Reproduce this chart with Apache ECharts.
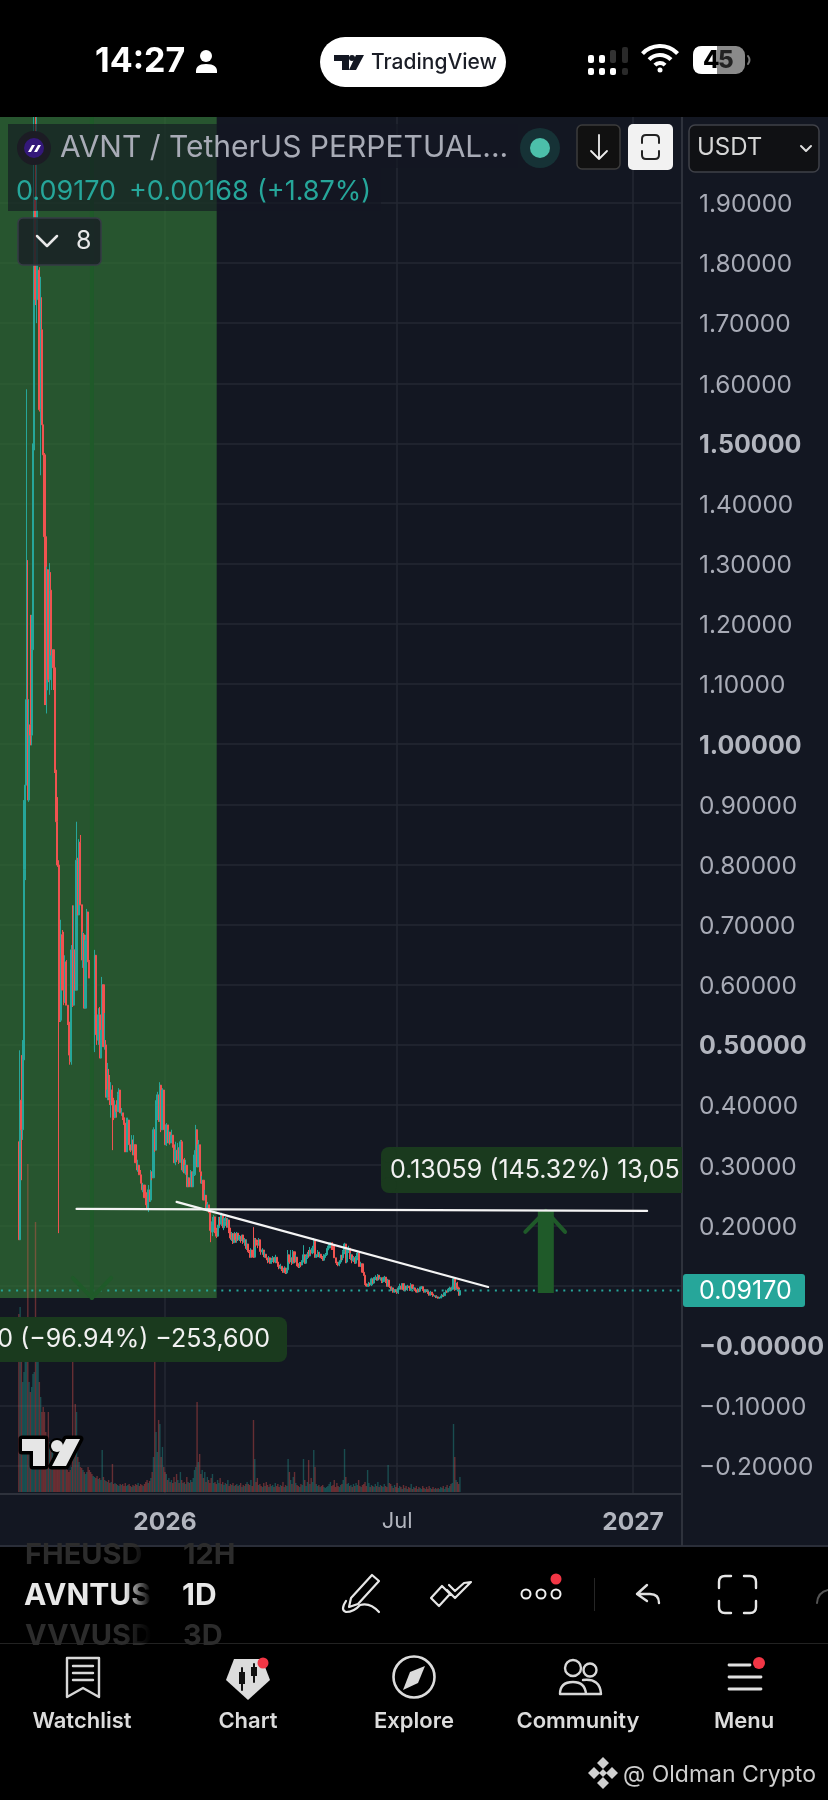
<!DOCTYPE html>
<html><head><meta charset="utf-8">
<style>html,body{margin:0;padding:0;background:#000}#c{width:828px;height:1800px}</style>
<script src="https://cdn.jsdelivr.net/npm/echarts@6/dist/echarts.min.js"></script>
</head><body><div id="c"></div>
<script>
const startDate='2025-09-09';
const firstOpen=.339;
const closes=[
.176,.408,.359,.475,.791,.932,1.074,.907,1.032,1.015,
1.157,1.489,1.905,1.739,1.772,1.788,1.556,1.689,1.531,1.481,
1.345,1.090,1.290,1.107,1.256,1.148,1.157,1.127,.957,.871,
.799,.691,.541,.683,.591,.571,.638,.566,.538,.483,
.472,.658,.566,.658,.591,.807,.716,.837,.733,.641,
.683,.561,.674,.721,.638,.611,.528,.492,.55,.649,
.517,.508,.55,.478,.508,.6,.497,.5,.413,.425,
.413,.408,.425,.4,.379,.4,.389,.417,.425,.387,
.387,.379,.37,.322,.372,.375,.334,.325,.342,.317,
.334,.304,.292,.3,.284,.27,.259,.267,.246,.234,
.226,.259,.242,.289,.279,.359,.325,.4,.417,.375,
.433,.359,.425,.367,.334,.367,.337,.355,.337,.35,
.334,.304,.325,.309,.329,.305,.339,.292,.309,.287,
.3,.264,.279,.264,.289,.264,.284,.317,.359,.297,
.334,.289,.27,.275,.242,.25,.226,.234,.221,.192,
.189,.206,.214,.192,.182,.196,.212,.202,.217,.196,
.206,.212,.199,.209,.189,.179,.186,.171,.186,.176,
.187,.176,.182,.176,.184,.172,.176,.162,.169,.156,
.149,.159,.149,.147,.176,.171,.167,.176,.159,.156,
.159,.149,.152,.146,.139,.146,.137,.142,.146,.139,
.147,.139,.134,.129,.132,.126,.122,.129,.121,.126,
.151,.139,.146,.137,.156,.139,.147,.134,.131,.137,
.134,.139,.151,.137,.146,.152,.149,.159,.154,.162,
.176,.147,.151,.154,.149,.152,.146,.142,.149,.151,
.159,.162,.167,.171,.167,.164,.146,.139,.136,.134,
.139,.149,.146,.156,.169,.139,.159,.162,.146,.151,
.141,.146,.137,.146,.154,.139,.132,.136,.122,.117,
.103,.099,.099,.104,.101,.111,.104,.113,.114,.109,
.117,.111,.113,.106,.109,.114,.106,.099,.109,.098,
.093,.096,.089,.093,.091,.088,.096,.099,.096,.103,
.093,.099,.093,.099,.098,.093,.101,.096,.096,.093,
.089,.094,.091,.096,.098,.093,.089,.093,.091,.088,
.084,.089,.086,.083,.083,.081,.081,.079,.079,.081,
.084,.083,.088,.091,.089,.094,.096,.093,.096,.111,
.093,.104,.096,.084,.0917];
const highs=[
.339,.491,.483,.508,.907,.94,1.59,1.306,1.074,1.215,
1.215,1.5,2.2,2.2,2.2,1.888,1.793,1.777,1.743,1.534,
1.484,1.345,1.295,1.29,1.301,1.286,1.157,1.157,1.132,.96,
.912,.807,.694,.708,.691,.688,.649,.641,.566,.538,
.508,.666,.732,.732,.688,.871,.811,.842,.849,.732,
.688,.686,.683,.726,.721,.641,.613,.561,.558,.658,
.6,.555,.561,.563,.525,.613,.6,.553,.508,.47,
.46,.45,.438,.433,.412,.408,.408,.422,.428,.425,
.395,.387,.379,.37,.379,.379,.375,.334,.35,.342,
.35,.334,.304,.309,.3,.292,.27,.27,.267,.247,
.255,.267,.259,.292,.289,.363,.359,.408,.422,.417,
.438,.433,.428,.425,.37,.37,.367,.359,.355,.359,
.35,.337,.339,.325,.337,.329,.342,.342,.309,.312,
.309,.3,.284,.279,.292,.289,.289,.325,.367,.359,
.342,.334,.289,.282,.275,.259,.25,.239,.234,.221,
.226,.214,.217,.214,.196,.201,.214,.214,.221,.214,
.212,.214,.212,.212,.209,.196,.189,.187,.189,.187,
.189,.187,.184,.182,.184,.184,.179,.176,.176,.169,
.159,.162,.159,.197,.179,.179,.176,.179,.176,.162,
.162,.159,.156,.152,.146,.149,.146,.146,.149,.146,
.151,.147,.139,.134,.136,.132,.126,.132,.129,.129,
.159,.151,.159,.146,.159,.156,.151,.147,.137,.139,
.139,.142,.167,.151,.149,.156,.159,.164,.159,.166,
.179,.176,.152,.159,.156,.156,.152,.149,.152,.154,
.162,.166,.171,.172,.171,.171,.167,.146,.142,.139,
.142,.151,.151,.159,.171,.169,.162,.166,.162,.154,
.151,.149,.146,.149,.156,.154,.139,.139,.136,.122,
.117,.103,.103,.106,.104,.113,.111,.114,.117,.114,
.119,.117,.114,.113,.113,.116,.114,.106,.111,.109,
.098,.098,.096,.094,.093,.091,.099,.103,.099,.104,
.103,.103,.099,.101,.099,.098,.104,.101,.099,.096,
.093,.096,.094,.098,.099,.098,.093,.094,.093,.091,
.091,.091,.089,.086,.084,.083,.083,.081,.081,.083,
.086,.086,.089,.093,.091,.096,.098,.096,.098,.114,
.111,.106,.106,.098,.094];
const lows=[
.176,.176,.275,.342,.408,.774,.932,.907,.904,.998,
.998,1.051,1.45,1.73,1.7,1.74,1.553,1.447,1.531,1.481,
1.065,1.065,1.051,1.103,1.082,1.148,1.09,1.09,.952,.871,
.796,.187,.538,.538,.591,.566,.57,.566,.533,.483,
.467,.467,.563,.566,.591,.591,.716,.716,.732,.641,
.628,.561,.561,.641,.638,.611,.528,.488,.492,.488,
.517,.5,.5,.478,.478,.486,.497,.492,.413,.408,
.408,.4,.379,.325,.375,.379,.379,.389,.389,.387,
.382,.375,.367,.322,.322,.362,.334,.322,.325,.317,
.317,.304,.292,.289,.284,.27,.259,.255,.246,.234,
.226,.222,.239,.239,.275,.279,.322,.325,.375,.372,
.372,.355,.359,.359,.334,.332,.337,.337,.334,.337,
.329,.304,.3,.305,.309,.302,.304,.292,.289,.287,
.284,.264,.264,.264,.264,.264,.264,.282,.315,.297,
.297,.289,.27,.269,.242,.242,.226,.224,.221,.191,
.172,.182,.196,.187,.179,.181,.192,.199,.199,.196,
.192,.199,.196,.196,.187,.176,.174,.169,.171,.171,
.171,.174,.174,.171,.174,.169,.166,.161,.159,.154,
.146,.146,.146,.146,.147,.164,.162,.166,.156,.151,
.151,.147,.146,.142,.137,.139,.136,.136,.139,.137,
.137,.137,.131,.127,.127,.124,.121,.122,.119,.119,
.126,.136,.139,.134,.137,.137,.139,.132,.129,.129,
.131,.134,.139,.136,.136,.144,.146,.149,.151,.152,
.159,.146,.146,.147,.147,.146,.144,.141,.141,.146,
.149,.154,.159,.162,.159,.159,.146,.137,.134,.132,
.132,.136,.142,.142,.152,.137,.137,.154,.144,.142,
.137,.139,.136,.136,.142,.131,.131,.131,.121,.116,
.101,.098,.098,.098,.099,.099,.103,.103,.109,.108,
.108,.109,.108,.104,.104,.106,.104,.098,.098,.096,
.091,.091,.088,.088,.089,.086,.086,.093,.093,.093,
.091,.091,.091,.091,.096,.091,.091,.094,.093,.091,
.088,.088,.089,.089,.094,.091,.088,.088,.089,.086,
.083,.083,.084,.081,.081,.079,.079,.078,.078,.079,
.079,.081,.083,.086,.088,.089,.091,.091,.091,.093,
.091,.093,.093,.083,.083];
const volumes=[
178,185,130,110,120,150,130,328,110,100,
105,118,120,270,140,140,110,95,80,85,
80,60,50,80,50,45,40,35,35,32,
30,45,30,28,26,30,25,24,22,20,
22,25,145,40,88,80,35,30,25,24,
22,20,18,20,25,22,20,18,16,15,
14,16,13,14,12,42,15,12,11,10,
12,9,10,28,8,9,8,7,6,8,
7,8,6,9,6,7,8,6,5,7,
6,8,7,9,6,8,7,6,8,10,
12,9,11,14,20,35,147,60,40,72,
68,35,45,25,20,18,12,14,10,12,
9,15,10,18,12,9,20,12,9,10,
8,15,10,9,12,10,14,22,25,90,
30,38,18,22,14,20,10,15,12,9,
14,18,9,10,8,12,9,14,8,10,
7,9,8,12,6,8,7,9,6,7,
8,6,7,9,5,7,6,8,10,8,
7,12,6,72,33,10,14,7,8,6,
5,9,6,10,7,5,8,6,7,5,
9,6,8,5,7,6,10,5,7,6,
33,20,12,8,15,20,9,7,6,5,
8,7,33,12,6,10,32,8,14,10,
42,25,8,6,7,5,6,7,5,4,
5,6,8,10,6,7,12,5,9,6,
5,7,8,12,43,15,8,9,6,7,
5,8,6,9,7,12,6,5,7,8,
10,6,22,9,5,7,6,5,8,6,
10,5,7,6,5,8,6,5,27,9,
8,6,4,7,5,9,4,6,5,3,
7,4,6,3,5,4,8,3,5,4,
6,3,5,4,3,6,4,3,5,3,
6,4,3,5,3,4,3,4,3,5,
4,6,3,5,7,4,6,8,9,68,
35,12,10,8,15];
const priceTicks=[-.2,-.1,0,.1,.2,.3,.4,.5,.6,.7,.8,.9,1,1.1,1.2,1.3,1.4,1.5,1.6,1.7,1.8,1.9];
const priceTickLabels=['−0.20000','−0.10000','−0.00000','','0.20000','0.30000','0.40000','0.50000','0.60000','0.70000','0.80000','0.90000','1.00000','1.10000','1.20000','1.30000','1.40000','1.50000','1.60000','1.70000','1.80000','1.90000'];
const boldTicks=['−0.00000','0.50000','1.00000','1.50000'];
const timeTicks=['2026-01-01','2026-07-01','2027-01-01'];
const timeTickLabels=['2026','Jul','2027'];
const lastPrice=.0917;
const ts=s=>Date.parse(s+'T00:00:00Z');
const DAY=86400000;
const startTs=ts(startDate);
const dates=closes.map((_,i)=>startTs+i*DAY);
const up='#26a69a',down='#ef5350';
const axisMin=ts('2026-01-01')-128.7*DAY, axisMax=ts('2026-01-01')+403.2*DAY;
const candles=closes.map((c,i)=>{const o=i?closes[i-1]:firstOpen;
  return [dates[i],o,c,Math.min(lows[i],o,c),Math.max(highs[i],o,c)];});
const isUp=i=>candles[i][2]>=candles[i][1];
const line=(pts,color,width,extra)=>({type:'line',silent:true,symbol:'none',animation:false,z:6,data:pts.map(p=>[ts(p[0]),p[1]]),lineStyle:Object.assign({color:color,width:width,cap:'round',join:'round'},extra||{})});
const arrowGreen='#1f5a29';

const G=[];
let pN=0;
const rect=(x,y,w,h,fill,o)=>G.push(Object.assign({type:'rect',z:100,shape:{x,y,width:w,height:h,r:(o&&o.r)||0},style:{fill,stroke:o&&o.stroke,lineWidth:o&&o.lw}},o&&o.extra));
const text=(s,x,y,font,fill,align)=>G.push({type:'text',z:103,style:{text:s,x,y,font:font,fill:fill,align:align||'left',textAlign:align||'left',verticalAlign:'middle',textVerticalAlign:'middle',textBaseline:'middle'}});
const circ=(cx,cy,r,fill,stroke,lw)=>G.push({type:'circle',z:101,shape:{cx,cy,r},style:{fill:fill||'none',stroke:stroke,lineWidth:lw}});
const path=(d,fill,stroke,lw)=>{const n='pth'+(pN++);echarts.graphic.registerShape(n,echarts.graphic.extendPath(d));G.push({type:n,z:101,shape:{},style:{fill:fill||'none',stroke:stroke,lineWidth:lw,lineCap:'round',lineJoin:'round'}});};
const F='Inter, "Noto Sans", sans-serif';
// bands
rect(0,0,828,117,'#000');
rect(0,1546,828,254,'#000');
rect(0,1545,828,2,'#2a2e39');
rect(681,1494,2,52,'#2e323c');
// status bar
text('14:27',95,62,'700 34px '+F,'#fff');
circ(206,56,6,'#fff');
path('M196 73 Q195 64 206 64 Q218 64 217 73 Z','#fff');
rect(320,37,186,50,'#fff',{r:25});
path('M334 55 H349 V70 H342 V61 H334 Z M356 55 H364 L356 70 H349 Z','#131722');
circ(352,58,3,'#131722');
text('TradingView',371,63,'500 21px '+F,'#1a1d26');
[[588,55,8,'#fff'],[588,68,7,'#fff'],[599,55,8,'#fff'],[599,68,7,'#fff'],[610,50,13,'#333'],[610,68,7,'#fff'],[622,47,16,'#2a2a2a'],[622,68,7,'#2a2a2a']].forEach(a=>rect(a[0],a[1],6,a[2],a[3],{r:2}));
[[25],[16],[8]].forEach(a=>G.push({type:'arc',z:101,shape:{cx:660,cy:70,r:a[0]-1,startAngle:-Math.PI*0.76,endAngle:-Math.PI*0.24},style:{stroke:'#fff',lineWidth:4,fill:'none'}}));
circ(660,70,2.5,'#fff');
rect(693,46,52,28,'#8a8a8a',{r:9});
path('M702 46 H717 V74 H702 Q693 74 693 65 V55 Q693 46 702 46 Z','#fff');
path('M748 56 Q751 60 748 64','none','#777',2);
text('4',703,61,'800 24px '+F,'#000');
text('5',718,61,'800 24px '+F,'#222');
// legend
rect(8,124,510,44,'rgba(19,23,34,.62)');
rect(8,168,373,43,'rgba(19,23,34,.62)');
circ(34,148,17,'#1c1c24');
circ(34,148,10,'#34187a');
path('M28 152 L32 145 L35 145 L31 152 Z M34 152 L38 145 L41 145 L37 152 Z','#fff');
text('AVNT / TetherUS PERPETUAL...',60,148,'400 30px '+F,'#a8abb6');
text('0.09170',16,192,'400 27px '+F,up);
text('+0.00168',129,192,'400 27px '+F,up);
text('(+1.87%)',257,192,'400 27px '+F,up);
rect(18,218,83,47,'rgba(26,34,38,.88)',{r:5,stroke:'#363a45',lw:1.5});
path('M37 236 L47 246 L57 236','none','#e8e8e8',2.5);
text('8',76,241,'400 25px '+F,'#e8e8e8');
circ(540,148,20,'#163236');
circ(540,148,10,'#4cbfaa');
rect(577,125,43,44,'#111',{r:5,stroke:'#3c3c3c',lw:1.5});
path('M599 135 V159 M591 151 L599 159 L607 151','none','#eee',1.8);
rect(628,124,45,46,'#f2f2f2',{r:5});
path('M642 143 V139 Q642 135 646 135 H655 Q659 135 659 139 V143 M642 151 V155 Q642 159 646 159 H655 Q659 159 659 155 V151','none','#222',2);
rect(689,125,130,47,'#101114',{r:6,stroke:'#3f4148',lw:1.5});
text('USDT',697,148,'400 24px '+F,'#d6d6d6');
path('M801 146 L806 151 L811 146','none','#ddd',2);
// TV logo
path('M22 1439 H45 V1466 H33 V1451 H22 Z M66 1439 H80 L66 1466 H52 Z','#000','#000',7);
circ(57,1446,8,'#000');
path('M22 1439 H45 V1466 H33 V1451 H22 Z M66 1439 H80 L66 1466 H52 Z','#e6e6e6');
circ(57,1446,6,'#e6e6e6');
// measure labels
rect(389,1147,293,46,'#1a3a1e');
rect(381,1155,8,30,'#1a3a1e');
circ(389,1155,8,'#1a3a1e');
circ(389,1185,8,'#1a3a1e');
text('0.13059 (145.32%) 13,05',390,1170,'400 25px '+F,'#f1f1f1');
rect(0,1317,287,45,'#1a3a1e',{r:8});
rect(0,1317,20,45,'#1a3a1e');
text('00 (−96.94%) −253,600',270,1339,'400 25px '+F,'#f1f1f1','right');
// price tag
rect(683,1274,122,33,up,{r:3});
text('0.09170',699,1291,'400 25px '+F,'#fff');
// symbol switcher
text('FHEUSD',25,1555,'700 29px '+F,'#2c2c2c');
text('12H',183,1555,'700 29px '+F,'#2c2c2c');
text('AVNTUSD',24,1596,'700 30px '+F,'#e8e8e8');
text('1D',182,1596,'700 30px '+F,'#e8e8e8');
text('VVVUSD',25,1636,'700 29px '+F,'#2c2c2c');
text('3D',183,1636,'700 29px '+F,'#2c2c2c');
G.push({type:'rect',z:104,shape:{x:125,y:1547,width:26,height:96},style:{fill:{type:'linear',x:0,y:0,x2:1,y2:0,colorStops:[{offset:0,color:'rgba(0,0,0,0)'},{offset:1,color:'#000'}]}}});
rect(151,1547,25,96,'#000',{extra:{z:104}});
// tool icons
path('M372 1575 L379 1581 L358 1604 L349 1607 L351 1598 Z','none','#e6e6e6',2.2);
path('M346 1601 Q340 1610 346 1612 Q354 1612 360 1605 Q370 1602 379 1612','none','#e6e6e6',2.2);
path('M431 1598 L442 1586 L450 1594 L439 1606 Z M447 1590 L455 1598 L471 1582 L464 1583 L455 1591 L449 1585','none','#e6e6e6',2.2);
[526,541,556].forEach(x=>circ(x,1594,4.5,'none','#f0f0f0',2));
circ(556,1579,5.5,'#f23645');
rect(594,1578,1,33,'#262626');
path('M647 1585 L637 1594 L647 1601 M637 1594 H650 Q659 1594 659 1603','none','#e0e0e0',2.4);
path('M719 1588 V1582 Q719 1576 725 1576 H731 M744 1576 H750 Q756 1576 756 1582 V1588 M719 1601 V1607 Q719 1613 725 1613 H731 M744 1613 H750 Q756 1613 756 1607 V1601','none','#e6e6e6',2.4);
path('M828 1590 Q818 1592 817 1603','none','#555',2);
rect(0,1643,828,1,'#222');
// tab icons
path('M67 1658 H99 V1697 L83 1688 L67 1697 Z','none','#d8d8d8',2.4);
path('M73 1666 H93 M73 1673 H93 M73 1680 H93','none','#d8d8d8',2.4);
path('M234 1659 H262 L270 1680 L248 1700 L226 1680 Z','#dcdcdc');
path('M242 1668 V1690 M254 1664 V1682','none','#111',2);
rect(239,1672,6,12,'#111',{extra:{z:102}});rect(251,1667,6,9,'#111',{extra:{z:102}});
circ(263,1663,5.5,'#f23645');
circ(414,1677,20.5,'none','#dcdcdc',2.6);
path('M425 1666 L418 1683 L403 1690 L410 1672 Z','#dcdcdc');
circ(573,1668,8,'none','#d8d8d8',2.4);circ(590,1670,6.5,'none','#d8d8d8',2.4);
path('M560 1694 Q560 1682 573 1682 Q585 1682 586 1694 Z M583 1680 Q600 1678 601 1694 H586','none','#d8d8d8',2.4);
path('M729 1665 H750 M729 1677 H761 M729 1689 H761','none','#e0e0e0',2.8);
circ(759,1663,6,'#f23645');
[['Watchlist',82],['Chart',248],['Explore',414],['Community',578],['Menu',744]].forEach(a=>text(a[0],a[1],1721,'600 22px '+F,'#dcdcdc','center'));
// watermark
[[603,1763],[594,1773],[612,1773],[603,1783]].forEach(p=>path(`M${p[0]} ${p[1]-6} L${p[0]+6} ${p[1]} L${p[0]} ${p[1]+6} L${p[0]-6} ${p[1]} Z`,'#d0d0d0'));
path('M603 1769 L607 1773 L603 1777 L599 1773 Z','#d0d0d0');
text('@ Oldman Crypto',623,1775,'400 23px '+F,'#cfcfcf');

const chart=echarts.init(document.getElementById('c'),null,{renderer:'canvas',width:828,height:1800});
const tickStamps=timeTicks.map(ts);
chart.setOption({
 animation:false,backgroundColor:'#131722',
 grid:{left:0,right:146,top:117,height:1377,containLabel:false},
 xAxis:{type:'value',min:axisMin,max:axisMax,scale:true,
  axisLine:{show:true,onZero:false,lineStyle:{color:'#2e323c',width:2}},
  axisTick:{show:false,customValues:tickStamps},
  splitLine:{show:true,lineStyle:{color:'#242833',width:1.5}},
  axisLabel:{customValues:tickStamps,margin:16,color:'#b2b5be',fontFamily:'Inter',fontSize:24,
   formatter:v=>{const s=timeTickLabels[tickStamps.indexOf(v)]||'';return s==='Jul'?'{n|'+s+'}':'{b|'+s+'}';},
   rich:{b:{fontFamily:'Inter',fontSize:24.5,fontWeight:700,color:'#b2b5be'},n:{fontFamily:'Inter',fontSize:22,fontWeight:400,color:'#b2b5be'}}}},
 yAxis:[{type:'value',position:'right',min:-.2467,max:2.0427,scale:true,
  axisLine:{show:true,onZero:false,lineStyle:{color:'#2e323c',width:2}},
  axisTick:{show:false,customValues:priceTicks},
  splitLine:{show:true,lineStyle:{color:'#242833',width:1.5}},
  axisLabel:{customValues:priceTicks,margin:17,
   formatter:v=>{const i=priceTicks.findIndex(t=>Math.abs(t-v)<1e-6);const s=priceTickLabels[i]||'';return boldTicks.includes(s)?'{b|'+s+'}':'{n|'+s+'}';},
   rich:{b:{fontFamily:'Inter',fontSize:25,fontWeight:700,color:'#b2b5be',padding:[4,0,0,0]},n:{fontFamily:'Inter',fontSize:24.4,fontWeight:400,color:'#a8abb6',padding:[4,0,0,0]}}}},
  {type:'value',show:false,min:-2,max:1375,splitLine:{show:false}}],
 series:[
  {type:'bar',yAxisIndex:1,data:volumes.map((v,i)=>[dates[i],v]),barWidth:1.4,z:1,silent:true,
   itemStyle:{color:p=>isUp(p.dataIndex)?'rgba(38,166,154,.38)':'rgba(239,83,80,.38)'}},
  {type:'candlestick',data:candles.map(c=>c.slice()),encode:{x:0,y:[1,2,3,4]},barWidth:1.6,z:4,silent:true,clip:true,
   itemStyle:{color:up,color0:down,borderColor:up,borderColor0:down,borderWidth:1},
   markArea:{silent:true,z:1,itemStyle:{color:'rgba(48,112,52,.7)'},data:[[{coord:[axisMin,2.1]},{coord:[ts('2026-01-01')+40.3*DAY,.0793]}]]}},
  line([['2025-08-26',lastPrice],['2027-02-08',lastPrice]],up,2,{type:[2,5.6],cap:'butt'}),
  line([['2025-11-05',2.1],['2025-11-05',.0793]],arrowGreen,4),
  line([['2025-10-21',.1126],['2025-11-05',.0793],['2025-11-20',.1126]],arrowGreen,4),
  line([['2026-10-25',.0876],['2026-10-25',.2239]],arrowGreen,16,{cap:'butt'}),
  line([['2026-10-09',.189],['2026-10-25',.2239],['2026-11-09',.189]],arrowGreen,4),
  line([['2025-10-24',.2273],['2027-01-12',.2239]],'#f4f4f4',2.2),
  line([['2026-01-10',.2389],['2026-09-10',.0975]],'#f4f4f4',2.2)
 ],
 graphic:{elements:G}
});
</script></body></html>
